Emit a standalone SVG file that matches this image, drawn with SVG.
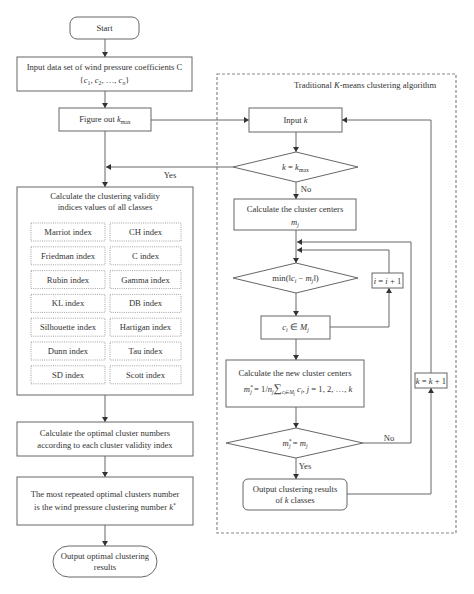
<svg xmlns="http://www.w3.org/2000/svg" width="474" height="594" viewBox="0 0 474 594">
<defs>
<marker id="arr" markerWidth="6" markerHeight="6" refX="5" refY="3" orient="auto" markerUnits="userSpaceOnUse">
<path d="M0,0 L5,3 L0,6 Z" fill="#333"/>
</marker>
<style>
.box{fill:#fff;stroke:#666;stroke-width:1}
.dot{fill:none;stroke:#888;stroke-width:0.8;stroke-dasharray:1,1.2}
.frame{fill:none;stroke:#888;stroke-width:1.2;stroke-dasharray:3,2}
.ln{fill:none;stroke:#666;stroke-width:1}
.t{font-family:"Liberation Serif","Times New Roman",serif;font-size:8.6px;fill:#333;text-anchor:middle}
.i{font-style:italic}
</style>
</defs>
<rect width="474" height="594" fill="#fff"/>

<g id="frame">
<rect class="frame" x="217" y="74" width="239" height="459"/>
<text class="t" x="365" y="88">Traditional <tspan class="i">K</tspan>-means clustering algorithm</text>
</g>

<g id="connectors">
<line class="ln" x1="105" y1="39" x2="105" y2="57" marker-end="url(#arr)"/>
<line class="ln" x1="105" y1="91" x2="105" y2="108" marker-end="url(#arr)"/>
<line class="ln" x1="105" y1="131" x2="105" y2="187" marker-end="url(#arr)"/>
<line class="ln" x1="151" y1="120" x2="249" y2="120" marker-end="url(#arr)"/>
<line class="ln" x1="233" y1="167" x2="106" y2="167" marker-end="url(#arr)"/>
<line class="ln" x1="296" y1="132" x2="296" y2="152" marker-end="url(#arr)"/>
<line class="ln" x1="296" y1="182" x2="296" y2="199" marker-end="url(#arr)"/>
<line class="ln" x1="296" y1="230" x2="296" y2="263" marker-end="url(#arr)"/>
<line class="ln" x1="296" y1="293" x2="296" y2="316" marker-end="url(#arr)"/>
<line class="ln" x1="296" y1="339" x2="296" y2="360" marker-end="url(#arr)"/>
<line class="ln" x1="296" y1="407" x2="296" y2="428" marker-end="url(#arr)"/>
<line class="ln" x1="296" y1="458" x2="296" y2="479" marker-end="url(#arr)"/>
<polyline class="ln" points="330,327 389,327 389,288" marker-end="url(#arr)"/>
<polyline class="ln" points="389,273 389,250 297,250" marker-end="url(#arr)"/>
<polyline class="ln" points="363,443 411,443 411,242 297,242" marker-end="url(#arr)"/>
<polyline class="ln" points="347,494 431,494 431,388" marker-end="url(#arr)"/>
<polyline class="ln" points="431,373 431,120 342,120" marker-end="url(#arr)"/>
<line class="ln" x1="105" y1="395" x2="105" y2="422" marker-end="url(#arr)"/>
<line class="ln" x1="105" y1="456" x2="105" y2="477" marker-end="url(#arr)"/>
<line class="ln" x1="105" y1="525" x2="105" y2="546" marker-end="url(#arr)"/>
<text class="t" x="170" y="178">Yes</text>
<text class="t" x="306" y="192">No</text>
<text class="t" x="389" y="441">No</text>
<text class="t" x="305" y="469">Yes</text>
</g>

<g id="start">
<rect class="box" x="70" y="17" width="69" height="22" rx="7"/>
<text class="t" x="104.5" y="31">Start</text>
</g>

<g id="input-data">
<rect class="box" x="17" y="57" width="175" height="34"/>
<text class="t" x="104.5" y="70">Input data set of wind pressure coefficients C</text>
<text class="t" x="104.5" y="83">{<tspan class="i">c</tspan><tspan font-size="5.8" dy="1.5">1</tspan><tspan dy="-1.5">, </tspan><tspan class="i">c</tspan><tspan font-size="5.8" dy="1.5">2</tspan><tspan dy="-1.5">, …, </tspan><tspan class="i">c</tspan><tspan class="i" font-size="5.8" dy="1.5">n</tspan><tspan dy="-1.5">}</tspan></text>
</g>

<g id="figure-kmax">
<rect class="box" x="59" y="108" width="92" height="23"/>
<text class="t" x="105" y="122">Figure out <tspan class="i">k</tspan><tspan font-size="5.8" dy="1.5">max</tspan></text>
</g>

<g id="validity">
<rect class="box" x="17" y="187" width="176" height="208"/>
<text class="t" x="105" y="199">Calculate the clustering validity</text>
<text class="t" x="105" y="210">indices values of all classes</text>
<g id="indices">
<rect class="dot" x="31" y="223" width="74" height="18"/><text class="t" x="68" y="235">Marriot index</text>
<rect class="dot" x="110" y="223" width="71" height="18"/><text class="t" x="145.5" y="235">CH index</text>
<rect class="dot" x="31" y="246.8" width="74" height="18"/><text class="t" x="68" y="258.8">Friedman index</text>
<rect class="dot" x="110" y="246.8" width="71" height="18"/><text class="t" x="145.5" y="258.8">C index</text>
<rect class="dot" x="31" y="270.6" width="74" height="18"/><text class="t" x="68" y="282.6">Rubin index</text>
<rect class="dot" x="110" y="270.6" width="71" height="18"/><text class="t" x="145.5" y="282.6">Gamma index</text>
<rect class="dot" x="31" y="294.4" width="74" height="18"/><text class="t" x="68" y="306.4">KL index</text>
<rect class="dot" x="110" y="294.4" width="71" height="18"/><text class="t" x="145.5" y="306.4">DB index</text>
<rect class="dot" x="31" y="318.2" width="74" height="18"/><text class="t" x="68" y="330.2">Silhouette index</text>
<rect class="dot" x="110" y="318.2" width="71" height="18"/><text class="t" x="145.5" y="330.2">Hartigan index</text>
<rect class="dot" x="31" y="342" width="74" height="18"/><text class="t" x="68" y="354">Dunn index</text>
<rect class="dot" x="110" y="342" width="71" height="18"/><text class="t" x="145.5" y="354">Tau index</text>
<rect class="dot" x="31" y="365.8" width="74" height="18"/><text class="t" x="68" y="377.8">SD index</text>
<rect class="dot" x="110" y="365.8" width="71" height="18"/><text class="t" x="145.5" y="377.8">Scott index</text>
</g>
</g>

<g id="optimal-numbers">
<rect class="box" x="17" y="422" width="176" height="34"/>
<text class="t" x="105" y="436">Calculate the optimal cluster numbers</text>
<text class="t" x="105" y="448">according to each cluster validity index</text>
</g>

<g id="most-repeated">
<rect class="box" x="17" y="477" width="176" height="48"/>
<text class="t" x="105" y="497">The most repeated optimal clusters number</text>
<text class="t" x="105" y="510">is the wind pressure clustering number <tspan class="i">k</tspan><tspan font-size="5.8" dy="-3">*</tspan></text>
</g>

<g id="output-optimal">
<rect class="box" x="53" y="546" width="104" height="31" rx="15.5"/>
<text class="t" x="105" y="559">Output optimal clustering</text>
<text class="t" x="105" y="570">results</text>
</g>

<g id="input-k">
<rect class="box" x="249" y="108" width="93" height="24"/>
<text class="t" x="295.5" y="123">Input <tspan class="i">k</tspan></text>
</g>

<g id="k-eq-kmax">
<polygon class="box" points="233,167 296,152 358,167 296,182"/>
<text class="t" x="295.5" y="170"><tspan class="i">k</tspan> = <tspan class="i">k</tspan><tspan font-size="5.8" dy="1.5">max</tspan></text>
</g>

<g id="cluster-centers">
<rect class="box" x="234" y="199" width="122" height="31"/>
<text class="t" x="295" y="212">Calculate the cluster centers</text>
<text class="t" x="295" y="225"><tspan class="i">m</tspan><tspan class="i" font-size="5.8" dy="1.5">j</tspan></text>
</g>

<g id="min-dist">
<polygon class="box" points="233,278 296,263 358,278 296,293"/>
<text class="t" x="295.5" y="281">min(‖<tspan class="i">c</tspan><tspan class="i" font-size="5.8" dy="1.5">i</tspan><tspan dy="-1.5"> − </tspan><tspan class="i">m</tspan><tspan class="i" font-size="5.8" dy="1.5">j</tspan><tspan dy="-1.5">‖)</tspan></text>
</g>

<g id="i-plus">
<rect class="box" x="372" y="273" width="31" height="15"/>
<text class="t" x="387.5" y="283.5" font-size="8"><tspan class="i">i</tspan> = <tspan class="i">i</tspan> + 1</text>
</g>

<g id="ci-in-mj">
<rect class="box" x="261" y="316" width="69" height="23"/>
<text class="t" x="295.5" y="330"><tspan class="i">c</tspan><tspan class="i" font-size="5.8" dy="1.5">i</tspan><tspan dy="-1.5"> ∈ </tspan><tspan class="i">M</tspan><tspan class="i" font-size="5.8" dy="1.5">j</tspan></text>
</g>

<g id="new-centers">
<rect class="box" x="226" y="360" width="138" height="47"/>
<text class="t" x="295" y="376">Calculate the new cluster centers</text>
<text class="t" x="298" y="392"><tspan class="i">m</tspan><tspan class="i" font-size="5.8" dx="0" dy="-3">*</tspan><tspan class="i" font-size="5.8" dx="-2.5" dy="4.5">j</tspan><tspan dy="-1.5"> = 1/</tspan><tspan class="i">n</tspan><tspan class="i" font-size="5.8" dy="1.5">j</tspan><tspan font-size="11.5" dy="-1.5">∑</tspan><tspan class="i" font-size="5.2" dy="2">c</tspan><tspan class="i" font-size="4.2" dy="1">i</tspan><tspan font-size="5.2" dy="-1">∈</tspan><tspan class="i" font-size="5.2">M</tspan><tspan class="i" font-size="4.2" dy="1">j</tspan><tspan dy="-3"> </tspan><tspan class="i">c</tspan><tspan class="i" font-size="5.8" dy="1.5">i</tspan><tspan dy="-1.5">, </tspan><tspan class="i">j</tspan> = 1, 2, …, <tspan class="i">k</tspan></text>
</g>

<g id="converged">
<polygon class="box" points="226,443 296,428 363,443 296,458"/>
<text class="t" x="295" y="446"><tspan class="i">m</tspan><tspan class="i" font-size="5.8" dy="-3">*</tspan><tspan class="i" font-size="5.8" dx="-2.5" dy="4.5">j</tspan><tspan dy="-1.5"> = </tspan><tspan class="i">m</tspan><tspan class="i" font-size="5.8" dy="1.5">j</tspan></text>
</g>

<g id="output-k">
<rect class="box" x="243" y="479" width="104" height="31" rx="5"/>
<text class="t" x="295" y="492">Output clustering results</text>
<text class="t" x="295" y="503">of <tspan class="i">k</tspan> classes</text>
</g>

<g id="k-plus">
<rect class="box" x="415" y="373" width="32" height="15"/>
<text class="t" x="431" y="383.5" font-size="8"><tspan class="i">k</tspan> = <tspan class="i">k</tspan> + 1</text>
</g>
</svg>
